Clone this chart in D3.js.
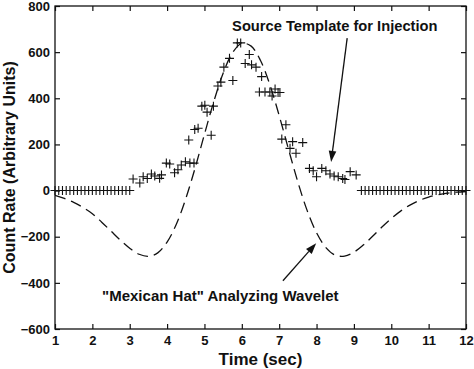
<!DOCTYPE html>
<html>
<head>
<meta charset="utf-8">
<script src="https://cdn.jsdelivr.net/npm/d3@7"></script>
<style>
  body { margin: 0; background: #fff; }
  svg text { font-family: "Liberation Sans", Arial, sans-serif; font-weight: bold; fill: #111; }
</style>
</head>
<body>
<svg id="chart" width="474" height="369"></svg>
<script>
// measured template counts (time in sec, count rate)
const zeroTimesLeft = [1.0, 1.1, 1.2, 1.3, 1.4, 1.5, 1.6, 1.7, 1.8, 1.9, 2.0,
  2.1, 2.2, 2.3, 2.4, 2.5, 2.6, 2.7, 2.8, 2.9, 3.0];
const zeroTimesRight = [9.2, 9.3, 9.4, 9.5, 9.6, 9.7, 9.8, 9.9, 10.0, 10.1, 10.2,
  10.3, 10.4, 10.5, 10.6, 10.7, 10.8, 10.9, 11.0, 11.1, 11.2, 11.3, 11.4, 11.5,
  11.6, 11.7, 11.8, 11.9, 12.0];
const sourceTimes = [3.09, 3.27, 3.36, 3.47, 3.58, 3.67, 3.80, 3.85, 3.98, 4.07,
  4.20, 4.29, 4.38, 4.49, 4.58, 4.61, 4.72, 4.74, 4.83, 4.93, 5.01, 5.07, 5.18,
  5.24, 5.36, 5.44, 5.52, 5.67, 5.76, 5.88, 5.97, 6.09, 6.20, 6.26, 6.38, 6.47,
  6.53, 6.62, 6.75, 6.81, 6.89, 6.97, 7.02, 7.07, 7.18, 7.29, 7.36, 7.45, 7.63,
  7.81, 7.91, 8.00, 8.14, 8.25, 8.36, 8.47, 8.58, 8.70, 8.76, 8.90, 9.06];
const sourceCounts = [50, 33, 60, 52, 72, 63, 53, 68, 119, 115,
  77, 90, 111, 125, 219, 119, 119, 265, 270, 366, 370, 340, 240,
  366, 453, 470, 535, 573, 477, 640, 640, 551, 590, 545, 535, 427,
  494, 427, 427, 410, 440, 425, 425, 223, 285, 183, 212, 162, 208,
  96, 86, 60, 96, 86, 72, 63, 60, 52, 48, 82, 68];

// mexican hat wavelet
const waveTimes = [1.0, 1.25, 1.5, 1.75, 2.0, 2.25, 2.5, 2.75, 3.0, 3.25, 3.5,
  3.75, 4.0, 4.25, 4.5, 4.75, 5.0, 5.25, 5.5, 5.75, 6.0, 6.25, 6.5, 6.75, 7.0,
  7.25, 7.5, 7.75, 8.0, 8.25, 8.5, 8.75, 9.0, 9.25, 9.5, 9.75, 10.0, 10.25,
  10.5, 10.75, 11.0, 11.25, 11.5, 11.75, 12.0];
const waveValues = [-21, -34, -51, -73, -100, -137, -176, -215, -250, -276, -285,
  -270, -223, -145, -35, 98, 244, 386, 509, 597, 638, 626, 564, 459, 325,
  179, 37, -87, -183, -247, -280, -284, -267, -236, -198, -158, -121, -89,
  -63, -43, -28, -18, -11, -7, -4];

const xTicks = [1, 2, 3, 4, 5, 6, 7, 8, 9, 10, 11, 12];
const yTicks = [-600, -400, -200, 0, 200, 400, 600, 800];

const svg = d3.select("#chart");
const mLeft = 55, mRight = 466, mTop = 6, mBottom = 329;

const x = d3.scaleLinear().domain([1, 12]).range([mLeft, mRight]);
const y = d3.scaleLinear().domain([-600, 800]).range([mBottom, mTop]);

// axes, ticks point inward on all four sides
svg.append("g")
  .attr("transform", `translate(0,${mBottom})`)
  .call(d3.axisBottom(x).tickValues(xTicks).tickSizeInner(-5).tickSizeOuter(0).tickPadding(7));
svg.append("g")
  .attr("transform", `translate(0,${mTop})`)
  .call(d3.axisTop(x).tickValues(xTicks).tickSizeInner(-5).tickSizeOuter(0).tickFormat(""));
svg.append("g")
  .attr("transform", `translate(${mLeft},0)`)
  .call(d3.axisLeft(y).tickValues(yTicks).tickSizeInner(-5).tickSizeOuter(0).tickPadding(5));
svg.append("g")
  .attr("transform", `translate(${mRight},0)`)
  .call(d3.axisRight(y).tickValues(yTicks).tickSizeInner(-5).tickSizeOuter(0).tickFormat(""));

svg.selectAll(".tick line").attr("stroke", "#111").attr("stroke-width", 1.2);
svg.selectAll(".domain").remove();
svg.selectAll(".tick text").style("font-size", "13px").attr("fill", "#111");

svg.append("rect")
  .attr("x", mLeft).attr("y", mTop)
  .attr("width", mRight - mLeft).attr("height", mBottom - mTop)
  .attr("fill", "none").attr("stroke", "#111").attr("stroke-width", 1.3);

// dashed wavelet
const wave = waveTimes.map((t, i) => [t, waveValues[i]]);
svg.append("path")
  .datum(wave)
  .attr("fill", "none")
  .attr("stroke", "#111")
  .attr("stroke-width", 1.3)
  .attr("stroke-dasharray", "11,6")
  .attr("d", d3.line().x(d => x(d[0])).y(d => y(d[1])).curve(d3.curveCatmullRom));

// crosses
const pts = zeroTimesLeft.map(t => [t, 0])
  .concat(sourceTimes.map((t, i) => [t, sourceCounts[i]]))
  .concat(zeroTimesRight.map(t => [t, 0]));
const h = 4.5;
svg.append("g").selectAll("path")
  .data(pts)
  .join("path")
  .attr("stroke", "#111")
  .attr("stroke-width", 1.1)
  .attr("fill", "none")
  .attr("d", d => {
    const cx = x(d[0]), cy = y(d[1]);
    return `M${cx - h},${cy}H${cx + h}M${cx},${cy - h}V${cy + h}`;
  });

// annotations
function arrow(t0, v0, t1, v1) {
  const x0 = x(t0), y0 = y(v0), x1 = x(t1), y1 = y(v1);
  const a = Math.atan2(y1 - y0, x1 - x0);
  const len = 11, wid = 3.8;
  const bx = x1 - len * Math.cos(a), by = y1 - len * Math.sin(a);
  svg.append("line")
    .attr("x1", x0).attr("y1", y0).attr("x2", bx).attr("y2", by)
    .attr("stroke", "#111").attr("stroke-width", 1.3);
  svg.append("path")
    .attr("fill", "#111")
    .attr("d", `M${x1},${y1}L${bx + wid * Math.sin(a)},${by - wid * Math.cos(a)}L${bx - wid * Math.sin(a)},${by + wid * Math.cos(a)}Z`);
}

svg.append("text")
  .attr("x", x(5.74)).attr("y", y(692))
  .style("font-size", "14.7px")
  .text("Source Template for Injection");
arrow(8.82, 661, 8.39, 124);

svg.append("text")
  .attr("x", x(2.26)).attr("y", y(-478))
  .style("font-size", "15px")
  .text("\"Mexican Hat\" Analyzing Wavelet");
arrow(7.1, -391, 7.99, -228);

// axis titles
svg.append("text")
  .attr("x", (mLeft + mRight) / 2).attr("y", 365)
  .attr("text-anchor", "middle")
  .style("font-size", "17px")
  .text("Time (sec)");
svg.append("text")
  .attr("transform", `translate(15,${(mTop + mBottom) / 2}) rotate(-90)`)
  .attr("text-anchor", "middle")
  .style("font-size", "16px")
  .text("Count Rate (Arbitrary Units)");
</script>
</body>
</html>
